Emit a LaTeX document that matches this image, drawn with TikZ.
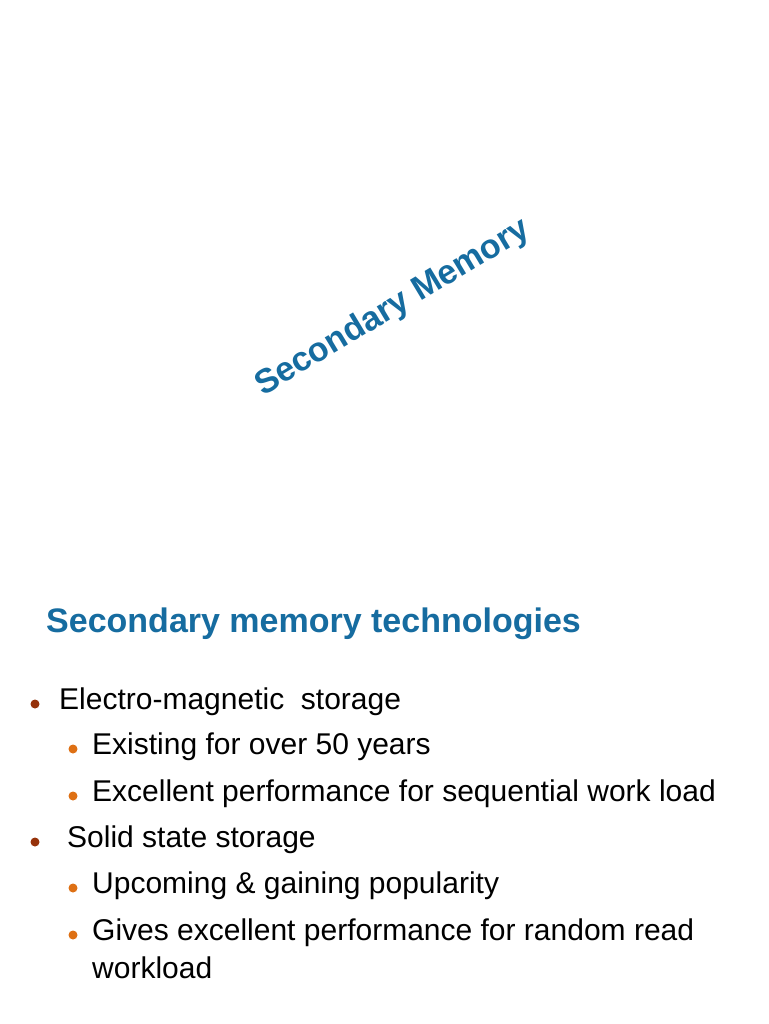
\documentclass[tikz,border=0pt]{standalone}
\usepackage{fontspec}
\setmainfont{Liberation Sans}
\usepackage{xcolor}
\usepackage{tikz}
\definecolor{slideblue}{RGB}{22,108,160}
\definecolor{bulletred}{RGB}{150,50,10}
\definecolor{bulletorange}{RGB}{222,112,20}
\tikzset{
  item/.style={anchor=west, inner sep=0pt, font=\fontsize{30}{34}\selectfont},
  dot/.style={circle, inner sep=0pt, minimum size=9pt},
}
\begin{document}
\begin{tikzpicture}[x=1pt, y=-1pt]
    \useasboundingbox[fill=white] (0,0) rectangle (768,1024);
    \node (rot) [rotate=31, text=slideblue, inner sep=0pt, font=\fontsize{34}{38}\selectfont\bfseries] at (393,308) {Secondary Memory};
    \node (title) [anchor=west, inner sep=0pt, text=slideblue, font=\fontsize{34}{38}\selectfont\bfseries] at (46,624) {Secondary memory technologies};

    \node (b1) [dot, fill=bulletred] at (35,704) {};
    \node (t1) [item] at (59,702) {Electro-magnetic\ \ storage};
    \node (s1) [dot, fill=bulletorange] at (73,749) {};
    \node (u1) [item] at (92,747) {Existing for over 50 years};
    \node (s2) [dot, fill=bulletorange] at (73,796) {};
    \node (u2) [item] at (92,794) {Excellent performance for sequential work load};
    \node (b2) [dot, fill=bulletred] at (35,842) {};
    \node (t2) [item] at (67,840) {Solid state storage};
    \node (s3) [dot, fill=bulletorange] at (73,888) {};
    \node (u3) [item] at (92,886) {Upcoming \& gaining popularity};
    \node (s4) [dot, fill=bulletorange] at (73,935) {};
    \node (u4) [item] at (92,933) {Gives excellent performance for random read};
    \node (u5) [item] at (92,968) {workload};
\end{tikzpicture}
\end{document}
